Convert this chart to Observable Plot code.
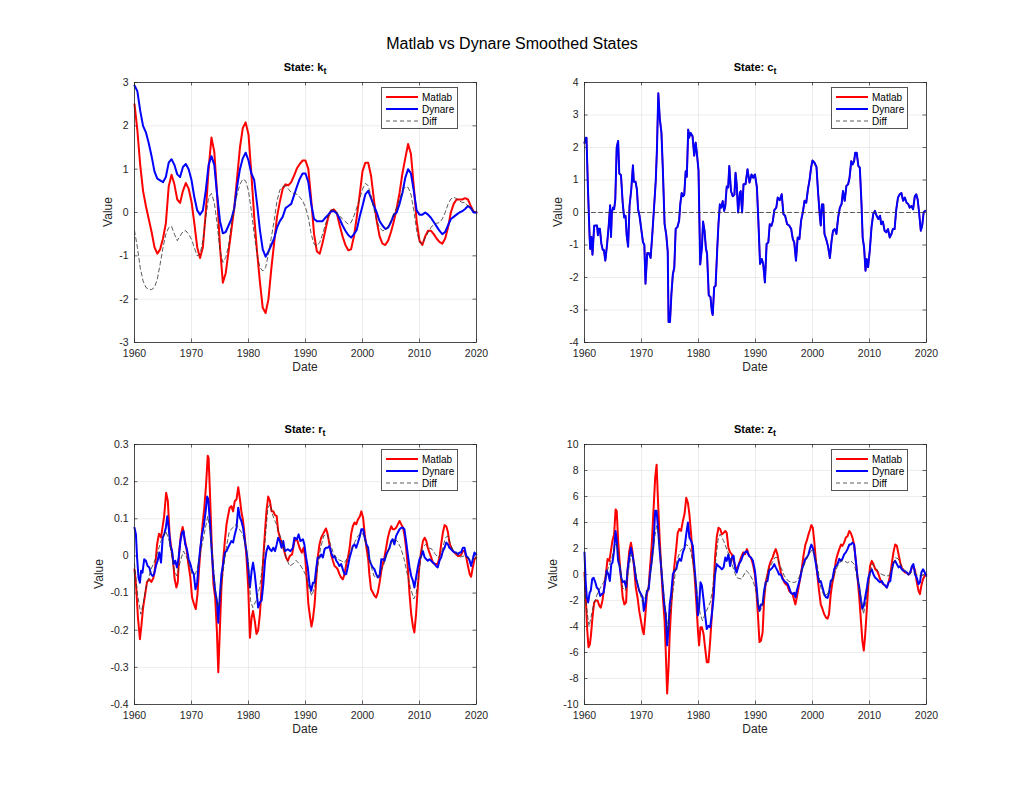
<!DOCTYPE html>
<html><head><meta charset="utf-8">
<script src="https://cdn.jsdelivr.net/npm/d3@7"></script>
<script src="https://cdn.jsdelivr.net/npm/@observablehq/plot@0.6"></script>
<style>
body{margin:0;background:#fff;font-family:Helvetica,Arial,"Liberation Sans",sans-serif;}
#fig{position:relative;width:1024px;height:787px;background:#fff;overflow:hidden;color:#262626}
.abs{position:absolute;white-space:nowrap}
.main{font-size:16px;}
.sub{font-size:11px;font-weight:bold;color:#000}
.sub sub{font-size:9px;vertical-align:-3px}
.lab{font-size:12px}
.leg{position:absolute;background:#fff;border:1px solid #555;box-sizing:border-box;font-size:10px}
.leg svg{position:absolute;left:0;top:0}
</style></head><body><div id="fig"></div><script>
// ---------- data ----------
const xTicks = [1960, 1970, 1980, 1990, 2000, 2010, 2020];
const seriesNames = ["Matlab", "Dynare", "Diff"];

// State k_t : half-year grid 1960.0 ... 2020.0
const kYears = d3.range(1960, 2020.25, 0.5);
const kMatlab = [2.5,1.9,1.1,0.5,0.15,-0.15,-0.45,-0.8,-0.95,-0.85,
 -0.6,-0.25,0.6,0.87,0.65,0.3,0.22,0.5,0.68,0.55,
 0.25,-0.25,-0.8,-1.05,-0.8,0.0,1.0,1.73,1.4,0.4,
 -0.8,-1.62,-1.4,-0.9,-0.4,0.1,0.8,1.5,1.95,2.08,
 1.8,0.9,-0.1,-0.9,-1.6,-2.2,-2.32,-2.0,-1.3,-0.7,
 -0.1,0.25,0.55,0.65,0.63,0.7,0.85,1.02,1.12,1.2,
 1.2,1.0,0.3,-0.5,-0.9,-0.95,-0.7,-0.4,-0.1,0.05,
 0.07,-0.02,-0.3,-0.55,-0.75,-0.87,-0.85,-0.55,-0.1,0.4,
 0.95,1.15,1.15,0.85,0.3,-0.2,-0.55,-0.72,-0.75,-0.65,
 -0.45,-0.2,0.1,0.45,0.9,1.25,1.58,1.35,0.6,-0.2,
 -0.65,-0.75,-0.55,-0.42,-0.42,-0.5,-0.6,-0.68,-0.72,-0.6,
 -0.35,0.0,0.2,0.3,0.3,0.3,0.33,0.3,0.15,0.02,
 0.0];
const kDynare = [2.93,2.8,2.35,2.0,1.85,1.6,1.3,0.95,0.78,0.74,
 0.7,0.82,1.15,1.23,1.1,0.88,0.82,1.05,1.12,1.0,
 0.75,0.35,0.05,-0.05,0.05,0.5,1.1,1.3,1.1,0.4,
 -0.2,-0.48,-0.45,-0.3,-0.15,0.1,0.6,1.0,1.25,1.38,
 1.2,0.9,0.75,0.2,-0.4,-0.85,-1.02,-0.9,-0.75,-0.6,
 -0.35,-0.2,-0.1,0.1,0.15,0.2,0.4,0.6,0.78,0.9,
 0.9,0.7,0.2,-0.15,-0.2,-0.2,-0.2,-0.12,-0.05,0.03,
 0.03,-0.02,-0.15,-0.3,-0.42,-0.52,-0.58,-0.5,-0.4,-0.1,
 0.15,0.42,0.5,0.33,0.15,0.0,-0.2,-0.3,-0.38,-0.35,
 -0.22,-0.05,0.0,0.2,0.45,0.8,1.0,0.9,0.5,0.05,
 -0.05,-0.05,0.0,-0.05,-0.12,-0.22,-0.32,-0.42,-0.5,-0.45,
 -0.3,-0.15,-0.1,-0.05,0.0,0.03,0.08,0.15,0.1,0.0,
 0.0];
const kDiff = [-0.42,-0.8,-1.27,-1.58,-1.73,-1.77,-1.78,-1.73,-1.54,-1.19,
 -0.81,-0.5,-0.35,-0.32,-0.5,-0.65,-0.54,-0.44,-0.42,-0.5,
 -0.62,-0.81,-1.0,-0.96,-0.65,-0.12,0.35,0.44,0.23,-0.27,
 -0.88,-1.15,-1.04,-0.77,-0.27,0.12,0.42,0.65,0.77,0.73,
 0.5,0.04,-0.5,-0.96,-1.27,-1.35,-1.27,-0.96,-0.58,-0.19,
 0.27,0.52,0.59,0.62,0.54,0.46,0.44,0.42,0.35,0.27,
 0.12,-0.12,-0.5,-0.73,-0.77,-0.69,-0.5,-0.27,-0.08,0.05,
 0.08,0.0,-0.08,-0.15,-0.21,-0.27,-0.23,-0.08,0.12,0.31,
 0.54,0.67,0.62,0.38,0.08,-0.19,-0.35,-0.42,-0.41,-0.31,
 -0.19,-0.04,0.12,0.31,0.5,0.59,0.58,0.42,0.04,-0.42,
 -0.69,-0.72,-0.58,-0.46,-0.35,-0.27,-0.25,-0.23,-0.15,0.0,
 0.19,0.31,0.35,0.32,0.27,0.23,0.23,0.15,0.12,0.04,
 0.0];

// State c_t : [date, value]; Matlab and Dynare coincide, Diff is zero
const cDynare = [[1960,2.14],[1960.2,2.3],[1960.35,2.3],[1960.6,0.77],[1960.9,-0.77],[1961,-1.12],[1961.2,-0.75],[1961.3,-1.0],[1961.4,-1.3],[1961.7,-0.41],
 [1962,-0.4],[1962.2,-0.4],[1962.35,-0.7],[1962.5,-0.5],[1962.7,-0.5],[1962.95,-0.95],[1963.2,-1.15],[1963.4,-1.15],[1963.65,-1.48],[1963.95,-1.0],
 [1964.25,-0.4],[1964.5,0.22],[1964.65,-0.75],[1964.8,0.0],[1965,0.15],[1965.2,0.1],[1965.4,0.4],[1965.65,2.0],[1965.9,2.2],[1966.1,1.2],
 [1966.4,1.15],[1966.7,0.3],[1966.95,-0.15],[1967.2,-0.1],[1967.4,-0.7],[1967.65,-1.05],[1967.9,0.2],[1968.2,0.7],[1968.5,1.45],[1968.65,0.95],
 [1968.95,0.95],[1969.2,0.7],[1969.4,0.1],[1969.65,-0.1],[1969.95,-0.5],[1970.25,-0.9],[1970.5,-1.0],[1970.7,-2.19],[1971,-1.25],[1971.3,-1.25],
 [1971.6,-1.4],[1971.9,-0.66],[1972.2,0.15],[1972.5,0.97],[1972.7,1.9],[1972.95,3.67],[1973.2,2.9],[1973.5,2.45],[1973.75,1.3],[1974.05,-0.35],
 [1974.35,-0.7],[1974.6,-1.2],[1974.75,-3.37],[1975,-3.37],[1975.25,-2.5],[1975.5,-1.9],[1975.75,-1.7],[1976,-0.5],[1976.3,-0.45],[1976.6,-0.25],
 [1976.8,0.25],[1977.05,0.6],[1977.3,0.5],[1977.5,0.55],[1977.75,1.27],[1977.95,1.1],[1978.2,2.55],[1978.35,2.3],[1978.6,2.45],[1978.95,2.35],
 [1979.25,1.75],[1979.5,2.15],[1979.7,1.85],[1980,1.3],[1980.3,-1.6],[1980.6,-1.07],[1980.8,-0.28],[1981.05,-0.55],[1981.3,-1.1],[1981.5,-1.27],
 [1981.8,-2.55],[1982.1,-2.6],[1982.35,-3.06],[1982.5,-3.15],[1982.75,-2.3],[1983,-2.25],[1983.3,-1.07],[1983.5,-0.36],[1983.75,0.25],[1984,0.15],
 [1984.25,0.35],[1984.5,0.05],[1984.7,0.2],[1984.95,0.8],[1985.2,0.77],[1985.4,1.43],[1985.7,0.66],[1986,0.5],[1986.3,0.55],[1986.5,1.22],
 [1986.7,0.87],[1986.95,0.0],[1987.25,0.6],[1987.4,0.66],[1987.65,0.0],[1987.9,0.87],[1988.25,0.87],[1988.6,1.33],[1988.95,0.92],[1989.3,1.17],
 [1989.6,1.07],[1989.9,1.17],[1990.25,0.77],[1990.5,-0.25],[1990.8,-1.58],[1991.1,-1.43],[1991.35,-1.58],[1991.65,-2.15],[1991.95,-0.97],[1992.25,-0.92],
 [1992.5,-0.36],[1992.8,-0.41],[1993.05,-0.26],[1993.3,0.07],[1993.65,0.15],[1993.9,0.46],[1994.25,0.38],[1994.6,0.56],[1994.9,-0.05],[1995.2,-0.1],
 [1995.55,-0.36],[1995.9,-0.4],[1996.25,-0.5],[1996.55,-0.82],[1996.8,-0.92],[1997.1,-1.48],[1997.4,-0.77],[1997.7,-0.82],[1998,-0.25],[1998.3,0.0],
 [1998.6,0.36],[1998.9,0.3],[1999.2,0.71],[1999.5,1.02],[1999.75,1.38],[2000,1.6],[2000.35,1.53],[2000.7,1.4],[2001,0.56],[2001.3,-0.15],
 [2001.45,-0.4],[2001.65,0.25],[2001.9,0.25],[2002.1,-0.66],[2002.4,-0.82],[2002.7,-1.02],[2003.05,-1.4],[2003.35,-0.87],[2003.6,-0.56],[2003.9,-0.51],
 [2004.2,-0.66],[2004.5,-0.15],[2004.8,0.15],[2005.1,0.26],[2005.35,0.66],[2005.65,0.36],[2005.95,0.82],[2006.25,0.87],[2006.5,1.07],[2006.8,1.58],
 [2007.05,1.48],[2007.3,1.58],[2007.5,1.84],[2007.75,1.84],[2008.05,1.43],[2008.3,1.38],[2008.6,0.25],[2008.8,-0.77],[2009.05,-1.07],[2009.3,-1.79],
 [2009.5,-1.43],[2009.75,-1.68],[2010.05,-1.17],[2010.35,-0.46],[2010.65,-0.05],[2010.95,0.05],[2011.25,-0.1],[2011.55,-0.2],[2011.85,-0.1],[2012.05,-0.36],
 [2012.35,-0.28],[2012.65,-0.56],[2012.95,-0.61],[2013.25,-0.51],[2013.55,-0.77],[2013.85,-0.66],[2014.1,-0.51],[2014.4,-0.51],[2014.7,0.1],[2015,0.46],
 [2015.3,0.56],[2015.6,0.6],[2015.9,0.36],[2016.2,0.46],[2016.5,0.3],[2016.8,0.26],[2017.05,0.15],[2017.35,0.2],[2017.65,0.1],[2017.95,0.5],
 [2018.2,0.56],[2018.45,0.4],[2018.7,0.0],[2019,-0.56],[2019.25,-0.4],[2019.5,0.0],[2019.75,0.05]];
const cMatlab = cDynare;
const cDiff = [[1960,0],[2020,0]];

// State r_t : [date, value]
const rMatlab = [[1960,-0.036],[1960.3,-0.085],[1960.6,-0.165],[1960.95,-0.224],[1961.2,-0.19],[1961.5,-0.14],[1961.9,-0.1],[1962.2,-0.07],[1962.6,-0.063],[1962.95,-0.07],
 [1963.3,-0.06],[1963.6,-0.035],[1963.95,0.03],[1964.3,0.06],[1964.65,0.05],[1964.95,0.08],[1965.2,0.107],[1965.55,0.17],[1965.85,0.148],[1966.15,0.058],
 [1966.45,0.022],[1966.75,-0.013],[1967.05,-0.063],[1967.35,-0.085],[1967.6,-0.07],[1967.85,0.013],[1968.15,0.058],[1968.45,0.078],[1968.75,0.05],[1969.1,0.022],
 [1969.45,-0.022],[1969.8,-0.058],[1970.1,-0.112],[1970.45,-0.13],[1970.75,-0.143],[1971.05,-0.103],[1971.3,-0.04],[1971.6,0.022],[1971.95,0.085],[1972.25,0.13],
 [1972.55,0.19],[1972.85,0.27],[1973,0.264],[1973.25,0.165],[1973.55,0.03],[1973.85,-0.076],[1974.15,-0.112],[1974.45,-0.2],[1974.7,-0.313],[1974.95,-0.21],
 [1975.25,-0.085],[1975.55,-0.013],[1975.85,0.04],[1976.15,0.085],[1976.4,0.107],[1976.7,0.13],[1977,0.134],[1977.3,0.12],[1977.6,0.148],[1977.9,0.152],
 [1978.2,0.185],[1978.5,0.152],[1978.75,0.12],[1979.05,0.094],[1979.35,0.05],[1979.65,-0.004],[1979.95,-0.085],[1980.25,-0.22],[1980.55,-0.165],[1980.8,-0.148],
 [1981.1,-0.175],[1981.4,-0.21],[1981.7,-0.2],[1982,-0.157],[1982.3,-0.085],[1982.6,-0.004],[1982.9,0.067],[1983.15,0.12],[1983.45,0.16],[1983.75,0.148],
 [1984.05,0.12],[1984.35,0.12],[1984.65,0.11],[1984.95,0.107],[1985.2,0.067],[1985.5,0.05],[1985.8,0.036],[1986.1,0.022],[1986.6,-0.005],[1986.9,-0.013],
 [1987.25,0.0],[1987.65,0.004],[1988.05,0.04],[1988.5,0.045],[1988.95,0.022],[1989.35,0.009],[1989.65,0.022],[1989.95,-0.004],[1990.25,-0.067],[1990.5,-0.13],
 [1990.8,-0.165],[1991.05,-0.19],[1991.3,-0.17],[1991.6,-0.13],[1991.9,-0.058],[1992.15,-0.004],[1992.45,0.031],[1992.75,0.049],[1993.05,0.058],[1993.35,0.067],
 [1993.6,0.074],[1993.9,0.058],[1994.2,0.031],[1994.5,0.004],[1994.8,-0.013],[1995.1,-0.027],[1995.4,-0.031],[1995.65,-0.036],[1995.95,-0.049],[1996.25,-0.058],
 [1996.55,-0.063],[1996.85,-0.049],[1997.15,-0.022],[1997.45,-0.004],[1997.75,0.022],[1998,0.058],[1998.3,0.08],[1998.6,0.09],[1998.9,0.085],[1999.2,0.098],
 [1999.55,0.107],[1999.8,0.12],[2000.1,0.103],[2000.4,0.058],[2000.7,0.022],[2001,-0.009],[2001.2,-0.049],[2001.5,-0.09],[2001.8,-0.098],[2002.1,-0.107],
 [2002.4,-0.112],[2002.7,-0.098],[2003,-0.072],[2003.3,-0.04],[2003.55,-0.022],[2003.85,-0.004],[2004.15,0.022],[2004.45,0.049],[2004.75,0.067],[2005.05,0.08],
 [2005.3,0.072],[2005.6,0.072],[2005.9,0.076],[2006.2,0.085],[2006.5,0.094],[2006.8,0.085],[2007.1,0.076],[2007.35,0.058],[2007.65,0.022],[2007.95,-0.031],
 [2008.25,-0.103],[2008.55,-0.157],[2008.85,-0.19],[2009.1,-0.206],[2009.4,-0.157],[2009.7,-0.085],[2010,-0.022],[2010.3,0.013],[2010.6,0.04],[2010.9,0.049],
 [2011.2,0.04],[2011.45,0.022],[2011.75,0.009],[2012.05,-0.004],[2012.35,-0.018],[2012.65,-0.022],[2012.9,-0.022],[2013.2,-0.022],[2013.5,-0.004],[2013.8,0.031],
 [2014.1,0.063],[2014.4,0.083],[2014.7,0.08],[2015,0.063],[2015.25,0.036],[2015.55,0.022],[2015.85,0.013],[2016.15,0.009],[2016.45,0.004],[2016.75,0.0],
 [2017,0.0],[2017.3,0.003],[2017.6,0.013],[2017.9,0.013],[2018.2,-0.004],[2018.5,-0.027],[2018.8,-0.049],[2019.05,-0.056],[2019.35,-0.031],[2019.65,-0.009],
 [2019.95,-0.004]];
const rDynare = [[1960,0.076],[1960.25,0.058],[1960.45,-0.004],[1960.7,-0.058],[1960.95,-0.072],[1961.15,-0.04],[1961.4,-0.045],[1961.7,-0.009],[1962,-0.013],[1962.3,-0.027],
 [1962.6,-0.031],[1962.9,-0.049],[1963.2,-0.054],[1963.45,-0.049],[1963.75,-0.027],[1964.05,-0.013],[1964.35,0.009],[1964.65,-0.018],[1964.95,0.049],[1965.2,0.058],
 [1965.5,0.076],[1965.75,0.107],[1966,0.076],[1966.3,0.027],[1966.6,0.013],[1966.85,-0.022],[1967.15,-0.013],[1967.45,-0.031],[1967.75,-0.004],[1968.05,0.04],
 [1968.35,0.063],[1968.6,0.067],[1968.9,0.031],[1969.2,0.018],[1969.5,-0.009],[1969.8,-0.022],[1970.1,-0.04],[1970.4,-0.049],[1970.7,-0.09],[1971,-0.072],
 [1971.25,-0.022],[1971.55,0.022],[1971.85,0.058],[1972.15,0.08],[1972.45,0.116],[1972.75,0.16],[1972.95,0.152],[1973.25,0.085],[1973.55,0.013],[1973.85,-0.049],
 [1974.15,-0.094],[1974.45,-0.12],[1974.7,-0.18],[1974.95,-0.112],[1975.25,-0.049],[1975.55,-0.022],[1975.85,0.009],[1976.15,0.013],[1976.4,0.022],[1976.7,0.031],
 [1977,0.04],[1977.3,0.036],[1977.6,0.058],[1977.9,0.076],[1978.2,0.13],[1978.5,0.103],[1978.75,0.094],[1979.05,0.076],[1979.35,0.04],[1979.65,0.013],
 [1979.95,-0.031],[1980.25,-0.085],[1980.55,-0.04],[1980.8,-0.018],[1981.1,-0.049],[1981.4,-0.094],[1981.7,-0.139],[1982,-0.125],[1982.3,-0.12],[1982.6,-0.076],
 [1982.9,-0.013],[1983.15,0.013],[1983.45,0.027],[1983.75,0.018],[1984.05,0.013],[1984.35,0.022],[1984.65,0.013],[1984.95,0.031],[1985.2,0.049],[1985.5,0.04],
 [1985.8,0.022],[1986.1,0.04],[1986.4,0.013],[1986.9,0.018],[1987.35,0.013],[1987.8,0.022],[1988.05,0.049],[1988.5,0.045],[1988.8,0.058],[1989.1,0.04],
 [1989.55,0.045],[1989.8,0.031],[1990.1,-0.004],[1990.4,-0.031],[1990.7,-0.076],[1991,-0.094],[1991.3,-0.072],[1991.6,-0.072],[1991.9,-0.031],[1992.15,-0.004],
 [1992.45,-0.004],[1992.75,0.004],[1993.05,-0.004],[1993.35,0.018],[1993.6,0.022],[1993.9,0.022],[1994.2,0.027],[1994.5,0.009],[1994.8,-0.004],[1995.1,0.0],
 [1995.4,-0.013],[1995.65,-0.018],[1995.95,-0.027],[1996.25,-0.022],[1996.55,-0.036],[1996.85,-0.049],[1997.15,-0.049],[1997.45,-0.027],[1997.75,-0.004],[1998,0.009],
 [1998.3,0.027],[1998.6,0.031],[1998.9,0.022],[1999.2,0.036],[1999.55,0.054],[1999.8,0.072],[2000.1,0.072],[2000.4,0.049],[2000.7,0.031],[2001,0.022],
 [2001.2,-0.009],[2001.5,-0.022],[2001.8,-0.031],[2002.1,-0.036],[2002.4,-0.049],[2002.7,-0.058],[2003,-0.054],[2003.3,-0.009],[2003.55,-0.009],[2003.85,-0.013],
 [2004.15,0.004],[2004.45,0.013],[2004.75,0.022],[2005.05,0.04],[2005.3,0.045],[2005.6,0.031],[2005.9,0.054],[2006.2,0.063],[2006.5,0.072],[2006.8,0.076],
 [2007.1,0.076],[2007.35,0.072],[2007.65,0.04],[2007.95,0.004],[2008.25,-0.031],[2008.55,-0.054],[2008.85,-0.067],[2009.1,-0.085],[2009.4,-0.058],[2009.7,-0.031],
 [2010,-0.009],[2010.3,0.0],[2010.6,0.013],[2010.9,-0.004],[2011.2,-0.009],[2011.45,-0.013],[2011.75,-0.009],[2012.05,-0.013],[2012.35,-0.018],[2012.65,-0.022],
 [2012.9,-0.027],[2013.2,-0.031],[2013.5,-0.013],[2013.8,-0.004],[2014.1,0.013],[2014.4,0.022],[2014.7,0.036],[2015,0.031],[2015.25,0.022],[2015.55,0.018],
 [2015.85,0.013],[2016.15,0.009],[2016.45,0.009],[2016.75,0.004],[2017,0.009],[2017.3,0.009],[2017.6,0.022],[2017.9,0.022],[2018.2,0.0],[2018.5,-0.004],
 [2018.8,-0.013],[2019.05,-0.027],[2019.35,-0.009],[2019.65,0.009],[2019.95,0.004]];
const rDiff = [[1960,-0.02],[1960.5,-0.1],[1961.1,-0.157],[1961.5,-0.13],[1962,-0.085],[1962.9,-0.036],[1963.75,-0.005],[1964.65,0.04],[1965.5,0.067],[1966.1,0.04],
 [1967,-0.04],[1967.45,-0.054],[1968.05,-0.013],[1968.6,0.013],[1969.3,-0.009],[1970.1,-0.049],[1970.7,-0.049],[1971.2,-0.022],[1971.85,0.031],[1972.45,0.076],
 [1972.85,0.107],[1973.25,0.067],[1973.7,-0.005],[1974.15,-0.085],[1974.6,-0.139],[1974.95,-0.12],[1975.5,-0.049],[1976.1,0.022],[1976.65,0.067],[1977.25,0.076],
 [1977.85,0.085],[1978.4,0.072],[1979,0.058],[1979.6,0.022],[1980,-0.022],[1980.35,-0.12],[1980.75,-0.139],[1981.35,-0.12],[1981.95,-0.085],[1982.35,-0.04],
 [1982.8,0.022],[1983.4,0.13],[1983.8,0.139],[1984.3,0.107],[1984.9,0.085],[1985.45,0.058],[1986.05,0.031],[1986.6,-0.005],[1987.2,-0.027],[1987.8,-0.022],
 [1988.35,-0.012],[1988.95,-0.022],[1989.55,-0.036],[1990.1,-0.054],[1990.7,-0.09],[1991.1,-0.107],[1991.6,-0.085],[1992.05,-0.04],[1992.65,0.022],[1993.2,0.054],
 [1993.8,0.058],[1994.4,0.031],[1994.95,0.004],[1995.65,-0.009],[1996.25,-0.013],[1996.85,-0.018],[1997.45,-0.004],[1998,0.013],[1998.6,0.036],[1999.2,0.054],
 [1999.8,0.063],[2000.25,0.054],[2000.8,0.022],[2001.4,-0.022],[2002,-0.054],[2002.6,-0.058],[2003.15,-0.045],[2003.75,-0.022],[2004.3,0.004],[2004.9,0.031],
 [2005.5,0.045],[2006.1,0.04],[2006.7,0.022],[2007.25,-0.005],[2007.85,-0.049],[2008.4,-0.085],[2009,-0.116],[2009.4,-0.103],[2009.9,-0.049],[2010.45,0.022],
 [2011.05,0.031],[2011.65,0.022],[2012.2,0.018],[2012.8,0.004],[2013.35,-0.005],[2013.95,0.013],[2014.55,0.049],[2015,0.054],[2015.45,0.031],[2016,0.013],
 [2016.6,0.004],[2017.2,-0.003],[2017.8,0.0],[2018.35,-0.005],[2018.9,-0.009],[2019.5,-0.009],[2019.95,-0.005]];

// State z_t : [date, value]
const zMatlab = [[1960,0.15],[1960.25,-2.0],[1960.45,-4.1],[1960.7,-5.6],[1960.95,-5.35],[1961.15,-4.6],[1961.4,-3.3],[1961.7,-2.15],[1962,-2.0],[1962.3,-2.0],
 [1962.6,-2.4],[1962.85,-2.55],[1963.15,-2.0],[1963.45,-1.0],[1963.75,0.0],[1964.05,1.2],[1964.35,1.05],[1964.6,1.7],[1964.9,2.6],[1965.2,3.1],
 [1965.45,5.0],[1965.65,4.9],[1965.9,2.6],[1966.15,1.05],[1966.45,-0.5],[1966.7,-1.75],[1967,-2.3],[1967.3,-2.15],[1967.55,0.3],[1967.85,1.8],
 [1968.15,2.45],[1968.4,1.8],[1968.7,0.55],[1969,-1.0],[1969.3,-1.75],[1969.6,-2.8],[1969.9,-3.55],[1970.2,-4.3],[1970.4,-4.6],[1970.65,-3.3],
 [1970.95,-1.5],[1971.25,-1.0],[1971.5,0.55],[1971.8,2.3],[1972.1,4.9],[1972.4,7.45],[1972.65,8.45],[1972.85,6.15],[1973.15,3.1],[1973.45,0.55],
 [1973.75,-1.75],[1974.05,-3.55],[1974.25,-5.85],[1974.5,-9.15],[1974.75,-7.1],[1974.95,-4.6],[1975.2,-2.55],[1975.5,-0.5],[1975.8,0.8],[1976.1,2.05],
 [1976.35,3.2],[1976.65,3.5],[1976.95,3.35],[1977.25,4.1],[1977.55,4.65],[1977.85,5.9],[1978.15,5.5],[1978.4,4.65],[1978.7,3.1],[1979,1.3],
 [1979.3,0.0],[1979.6,-2.0],[1979.9,-4.3],[1980.1,-5.45],[1980.35,-4.05],[1980.6,-4.05],[1980.9,-4.6],[1981.15,-5.6],[1981.45,-6.75],[1981.75,-6.75],
 [1982.05,-5.1],[1982.35,-3.05],[1982.65,-1.0],[1982.9,1.3],[1983.2,2.85],[1983.5,3.6],[1983.8,3.5],[1984.1,3.1],[1984.4,3.2],[1984.7,3.35],
 [1984.95,3.2],[1985.25,2.05],[1985.55,1.7],[1985.85,1.55],[1986.15,1.05],[1986.45,0.65],[1986.7,0.3],[1987.1,0.8],[1987.45,1.3],[1987.85,1.7],
 [1988.15,1.55],[1988.5,1.95],[1988.85,1.45],[1989.2,1.3],[1989.55,0.8],[1989.9,0.0],[1990.2,-1.5],[1990.45,-3.3],[1990.7,-5.2],[1990.95,-5.1],
 [1991.25,-4.45],[1991.5,-2.0],[1991.8,-0.6],[1992.1,0.0],[1992.4,0.65],[1992.7,1.05],[1993,1.3],[1993.3,1.7],[1993.55,1.95],[1993.85,1.55],
 [1994.15,0.8],[1994.45,0.15],[1994.75,-0.25],[1995.05,-0.6],[1995.3,-0.75],[1995.6,-0.85],[1995.9,-1.25],[1996.2,-1.4],[1996.5,-1.5],[1996.8,-2.0],
 [1997,-2.3],[1997.25,-1.75],[1997.55,-1.0],[1997.85,-0.25],[1998.15,0.55],[1998.45,1.55],[1998.75,2.3],[1999,2.6],[1999.3,3.1],[1999.6,3.5],
 [1999.8,3.8],[2000.05,3.6],[2000.3,2.6],[2000.6,1.05],[2000.9,-0.25],[2001.15,-1.25],[2001.45,-2.3],[2001.75,-2.65],[2002.05,-3.05],[2002.35,-3.3],
 [2002.65,-3.4],[2002.9,-3.05],[2003.2,-1.5],[2003.5,-0.6],[2003.8,0.0],[2004.1,1.05],[2004.4,1.55],[2004.7,1.95],[2005,2.3],[2005.25,2.2],
 [2005.55,2.45],[2005.85,2.85],[2006.15,2.95],[2006.45,3.35],[2006.7,3.2],[2007,2.85],[2007.3,2.3],[2007.6,1.05],[2007.9,-0.25],[2008.2,-1.75],
 [2008.5,-3.55],[2008.75,-5.1],[2009,-5.85],[2009.25,-4.6],[2009.55,-2.55],[2009.8,-0.75],[2010.1,0.65],[2010.4,1.05],[2010.7,0.8],[2011,0.4],
 [2011.3,0.3],[2011.6,0.0],[2011.85,-0.35],[2012.15,-0.6],[2012.45,-0.75],[2012.75,-0.85],[2013.05,-1.0],[2013.35,-0.6],[2013.65,0.0],[2013.9,0.8],
 [2014.2,1.7],[2014.5,2.3],[2014.8,2.2],[2015.1,1.55],[2015.4,0.9],[2015.65,0.55],[2015.95,0.3],[2016.25,0.15],[2016.55,0.15],[2016.85,0.0],
 [2017.15,0.15],[2017.45,0.55],[2017.7,0.65],[2018,0.3],[2018.3,-0.6],[2018.6,-1.25],[2018.85,-1.5],[2019.1,-0.85],[2019.4,-0.35],[2019.7,-0.1],
 [2019.95,0.0]];
const zDynare = [[1960,1.7],[1960.2,-0.5],[1960.4,-1.75],[1960.65,-2.15],[1960.9,-1.4],[1961.1,-1.25],[1961.35,-0.35],[1961.6,-0.25],[1961.9,-0.6],[1962.15,-1.0],
 [1962.45,-1.15],[1962.75,-1.65],[1963.05,-1.5],[1963.35,-1.4],[1963.65,-0.5],[1963.9,0.3],[1964.2,0.0],[1964.45,-0.5],[1964.7,0.8],[1964.9,0.9],
 [1965.15,1.7],[1965.45,3.35],[1965.65,2.6],[1965.9,1.05],[1966.15,0.65],[1966.45,-0.25],[1966.7,-0.6],[1967,-0.5],[1967.3,-1.0],[1967.55,0.3],
 [1967.85,1.3],[1968.15,2.05],[1968.4,1.55],[1968.7,0.8],[1969,-0.25],[1969.3,-0.75],[1969.6,-1.25],[1969.9,-1.5],[1970.2,-1.75],[1970.4,-2.8],
 [1970.65,-2.3],[1970.95,-1.25],[1971.25,-1.15],[1971.5,0.0],[1971.8,1.05],[1972.1,2.3],[1972.4,4.9],[1972.65,4.9],[1972.85,3.85],[1973.15,2.05],
 [1973.45,0.55],[1973.75,-1.0],[1974.05,-2.55],[1974.25,-3.05],[1974.5,-5.45],[1974.75,-4.05],[1974.95,-2.3],[1975.2,-1.5],[1975.5,0.0],[1975.8,0.3],
 [1976.1,0.4],[1976.35,0.9],[1976.65,1.2],[1976.95,1.05],[1977.25,1.7],[1977.55,2.05],[1977.85,3.1],[1978.15,4.0],[1978.4,2.85],[1978.7,2.6],
 [1979,2.2],[1979.3,0.55],[1979.6,-1.0],[1979.9,-3.15],[1980.1,-2.55],[1980.35,-0.6],[1980.6,-0.85],[1980.9,-2.0],[1981.15,-3.05],[1981.45,-4.2],
 [1981.75,-3.95],[1982.05,-4.05],[1982.35,-3.05],[1982.65,-1.75],[1982.9,0.0],[1983.2,0.8],[1983.5,0.65],[1983.8,0.55],[1984.1,0.4],[1984.4,0.55],
 [1984.7,1.3],[1984.95,1.05],[1985.25,1.55],[1985.55,0.65],[1985.85,1.3],[1986.15,1.45],[1986.45,0.4],[1986.7,0.15],[1987.1,0.8],[1987.45,1.05],
 [1987.85,1.55],[1988.15,1.7],[1988.5,1.8],[1988.85,1.45],[1989.2,1.3],[1989.55,1.05],[1989.9,0.3],[1990.2,-1.0],[1990.45,-2.3],[1990.7,-2.8],
 [1990.95,-2.3],[1991.25,-2.3],[1991.5,-1.25],[1991.8,-0.6],[1992.1,-0.5],[1992.4,0.3],[1992.7,0.4],[1993,0.55],[1993.3,0.8],[1993.55,0.55],
 [1993.85,0.3],[1994.15,0.0],[1994.45,0.0],[1994.75,-0.35],[1995.05,-0.5],[1995.3,-0.6],[1995.6,-0.7],[1995.9,-1.0],[1996.2,-1.4],[1996.5,-1.5],
 [1996.8,-1.4],[1997,-1.75],[1997.25,-1.25],[1997.55,-0.75],[1997.85,-0.25],[1998.15,0.4],[1998.45,0.8],[1998.75,1.2],[1999,1.3],[1999.3,1.55],
 [1999.6,2.05],[1999.8,2.3],[2000.05,2.05],[2000.3,1.55],[2000.6,0.8],[2000.9,0.0],[2001.15,-0.6],[2001.45,-0.5],[2001.75,-1.0],[2002.05,-1.5],
 [2002.35,-1.75],[2002.65,-1.8],[2002.9,-1.4],[2003.2,-0.5],[2003.5,-0.35],[2003.8,0.4],[2004.1,0.65],[2004.4,0.8],[2004.7,1.2],[2005,1.05],
 [2005.25,1.2],[2005.55,1.55],[2005.85,1.7],[2006.15,1.95],[2006.45,2.3],[2006.7,2.3],[2007,2.45],[2007.3,2.3],[2007.6,1.05],[2007.9,-0.25],
 [2008.2,-1.0],[2008.5,-2.0],[2008.75,-2.65],[2009,-2.4],[2009.25,-1.75],[2009.55,-1.0],[2009.8,-0.25],[2010.1,0.15],[2010.4,0.4],[2010.7,0.0],
 [2011,-0.25],[2011.3,-0.35],[2011.6,-0.5],[2011.85,-0.6],[2012.15,-0.5],[2012.45,-0.75],[2012.75,-0.85],[2013.05,-1.0],[2013.35,-0.6],[2013.65,-0.5],
 [2013.9,0.3],[2014.2,0.9],[2014.5,1.05],[2014.8,0.8],[2015.1,0.55],[2015.4,0.65],[2015.65,0.4],[2015.95,0.3],[2016.25,0.25],[2016.55,0.15],
 [2016.85,0.0],[2017.15,0.15],[2017.45,0.65],[2017.7,0.8],[2018,0.0],[2018.3,-0.25],[2018.6,-0.75],[2018.85,-0.6],[2019.1,0.15],[2019.4,0.4],
 [2019.7,0.15],[2019.95,-0.1]];
const zDiff = [[1960,-1.0],[1960.5,-3.0],[1960.8,-4.0],[1961.6,-2.3],[1962.45,-1.25],[1963.35,-0.6],[1964.2,0.55],[1964.8,1.3],[1965.4,2.3],[1965.65,2.3],
 [1966.1,1.05],[1966.65,-1.0],[1967.15,-1.25],[1967.7,0.3],[1968.2,1.55],[1968.75,0.8],[1969.45,-1.0],[1970.2,-2.15],[1970.65,-1.75],[1971.25,-0.85],
 [1971.8,0.8],[1972.3,2.85],[1972.65,3.75],[1973,3.1],[1973.45,0.8],[1973.9,-1.5],[1974.4,-3.3],[1974.6,-4.3],[1975,-3.05],[1975.6,-1.0],
 [1976.2,1.05],[1976.8,1.8],[1977.35,2.05],[1977.95,2.3],[1978.55,1.95],[1979.1,0.8],[1979.7,-1.25],[1980.3,-3.05],[1980.7,-3.55],[1981.15,-3.05],
 [1981.65,-2.55],[1982.05,-2.15],[1982.45,-1.25],[1982.9,0.55],[1983.4,2.6],[1983.8,3.1],[1984.4,2.6],[1984.95,1.95],[1985.55,1.3],[1986.15,0.4],
 [1986.7,-0.25],[1987.55,-0.35],[1988.4,0.3],[1989,0.0],[1989.6,-0.5],[1990.2,-1.5],[1990.75,-2.8],[1991.15,-2.55],[1991.65,-1.25],[1992.2,0.3],
 [1992.8,0.8],[1993.4,1.3],[1993.85,1.3],[1994.45,0.55],[1995.05,-0.1],[1995.75,-0.5],[1996.3,-0.6],[1997,-0.6],[1997.6,-0.25],[1998.2,0.4],
 [1998.8,1.05],[1999.35,1.55],[2000,1.95],[2000.4,1.55],[2000.9,0.55],[2001.45,-1.0],[2002.05,-1.65],[2002.65,-1.5],[2003.2,-0.85],[2003.8,0.0],
 [2004.4,0.65],[2005,1.05],[2005.55,1.05],[2006.15,0.9],[2006.7,1.05],[2007.3,0.8],[2007.9,-0.25],[2008.5,-1.75],[2008.95,-3.05],[2009.4,-2.0],
 [2009.9,-0.5],[2010.45,0.8],[2011.05,0.55],[2011.65,0.15],[2012.2,0.0],[2012.8,-0.1],[2013.4,-0.1],[2014,0.55],[2014.55,1.3],[2015.05,1.2],
 [2015.6,0.65],[2016.2,0.3],[2016.8,0.0],[2017.35,0.15],[2017.95,0.15],[2018.55,-0.1],[2019.1,-0.1],[2019.8,0.0]];

const kTicks = [-3,-2,-1,0,1,2,3];
const cTicks = [-4,-3,-2,-1,0,1,2,3,4];
const rTicks = [-0.4,-0.3,-0.2,-0.1,0,0.1,0.2,0.3];
const zTicks = [-10,-8,-6,-4,-2,0,2,4,6,8,10];

// ---------- drawing ----------
const fig = document.getElementById("fig");
const FONT = "Helvetica, Arial, 'Liberation Sans', sans-serif";
const colors = {Matlab: "#ff0000", Dynare: "#0000ff", Diff: "#333333"};

function pairs(arr) { return arr.map(([date, value]) => ({date, value})); }
function grid(years, vals) { return years.map((date, i) => ({date, value: vals[i]})); }

function addDiv(html, cls, style) {
  const d = document.createElement("div");
  d.className = "abs " + (cls || "");
  d.innerHTML = html;
  Object.assign(d.style, style);
  fig.appendChild(d);
  return d;
}

function panel(p) {
  const W = 410, H = 320, mL = 50, mR = 18, mT = 22, mB = 38;
  const innerH = H - mT - mB, innerW = W - mL - mR;
  const fx = p.left + mL, fy = p.top + mT;
  const svg = Plot.plot({
    width: W, height: H, marginLeft: mL, marginRight: mR, marginTop: mT, marginBottom: mB,
    style: {fontFamily: FONT, fontSize: "10.5px", color: "#262626", background: "transparent", overflow: "visible"},
    x: {domain: [1960, 2020]},
    y: {domain: p.domain},
    marks: [
      Plot.gridX(xTicks, {stroke: "#000", strokeOpacity: 0.1, strokeWidth: 0.7}),
      Plot.gridY(p.ticks, {stroke: "#000", strokeOpacity: 0.1, strokeWidth: 0.7}),
      Plot.axisX(xTicks, {tickSize: 0, tickPadding: 7, label: null, tickFormat: d => String(d)}),
      Plot.axisY(p.ticks, {tickSize: 0, tickPadding: 6, label: null, tickFormat: d => String(d)}),
      Plot.ruleX(xTicks, {x: d => d, insetTop: innerH - 3.5, stroke: "#262626", strokeWidth: 0.7}),
      Plot.ruleX(xTicks, {x: d => d, insetBottom: innerH - 3.5, stroke: "#262626", strokeWidth: 0.7}),
      Plot.ruleY(p.ticks, {y: d => d, insetRight: innerW - 3.5, stroke: "#262626", strokeWidth: 0.7}),
      Plot.ruleY(p.ticks, {y: d => d, insetLeft: innerW - 3.5, stroke: "#262626", strokeWidth: 0.7}),
      Plot.line(p.matlab, {x: "date", y: "value", stroke: colors.Matlab, strokeWidth: p.hideMatlab ? 1.6 : 2}),
      Plot.line(p.dynare, {x: "date", y: "value", stroke: colors.Dynare, strokeWidth: 2}),
      Plot.line(p.diff, {x: "date", y: "value", stroke: colors.Diff, strokeWidth: 0.8, strokeDasharray: "4,3"}),
      Plot.frame({stroke: "#262626", strokeWidth: 0.8})
    ]
  });
  svg.style.position = "absolute";
  svg.style.left = p.left + "px";
  svg.style.top = p.top + "px";
  fig.appendChild(svg);

  // subplot title
  addDiv(`State: ${p.sym}<sub>t</sub>`, "sub", {left: fx + "px", top: (fy - 21) + "px", width: innerW + "px", textAlign: "center"});
  // axis labels
  addDiv("Date", "lab", {left: fx + "px", top: (fy + innerH + 18) + "px", width: innerW + "px", textAlign: "center"});
  addDiv("Value", "lab", {left: p.valueX + "px", top: (fy + innerH / 2) + "px", transform: "translate(-50%,-50%) rotate(-90deg)"});

  // legend
  const lx = fx + innerW - 95, ly = fy + 5;
  const leg = document.createElement("div");
  leg.className = "leg";
  Object.assign(leg.style, {left: lx + "px", top: ly + "px", width: "77px", height: "42px"});
  let s = `<svg width="77" height="42">`;
  seriesNames.forEach((n, i) => {
    const y = 9 + i * 12;
    const dash = n === "Diff" ? `stroke-dasharray="4,3" stroke-width="0.8"` : `stroke-width="2"`;
    s += `<line x1="4" x2="36" y1="${y}" y2="${y}" stroke="${colors[n]}" ${dash}/>`;
    s += `<text x="40" y="${y + 3.5}" font-size="10" font-family="${FONT}" fill="#000">${n}</text>`;
  });
  s += `</svg>`;
  leg.innerHTML = s;
  fig.appendChild(leg);
}

addDiv("Matlab vs Dynare Smoothed States", "main", {left: "0px", width: "1024px", top: "35px", textAlign: "center", color: "#000"});

panel({left: 84, top: 60, sym: "k", domain: [-3, 3], ticks: kTicks, valueX: 108,
  matlab: grid(kYears, kMatlab), dynare: grid(kYears, kDynare), diff: grid(kYears, kDiff)});
panel({left: 534, top: 60, sym: "c", domain: [-4, 4], ticks: cTicks, valueX: 558, hideMatlab: true,
  matlab: pairs(cMatlab), dynare: pairs(cDynare), diff: pairs(cDiff)});
panel({left: 84, top: 422, sym: "r", domain: [-0.4, 0.3], ticks: rTicks, valueX: 99,
  matlab: pairs(rMatlab), dynare: pairs(rDynare), diff: pairs(rDiff)});
panel({left: 534, top: 422, sym: "z", domain: [-10, 10], ticks: zTicks, valueX: 553,
  matlab: pairs(zMatlab), dynare: pairs(zDynare), diff: pairs(zDiff)});
</script></body></html>
